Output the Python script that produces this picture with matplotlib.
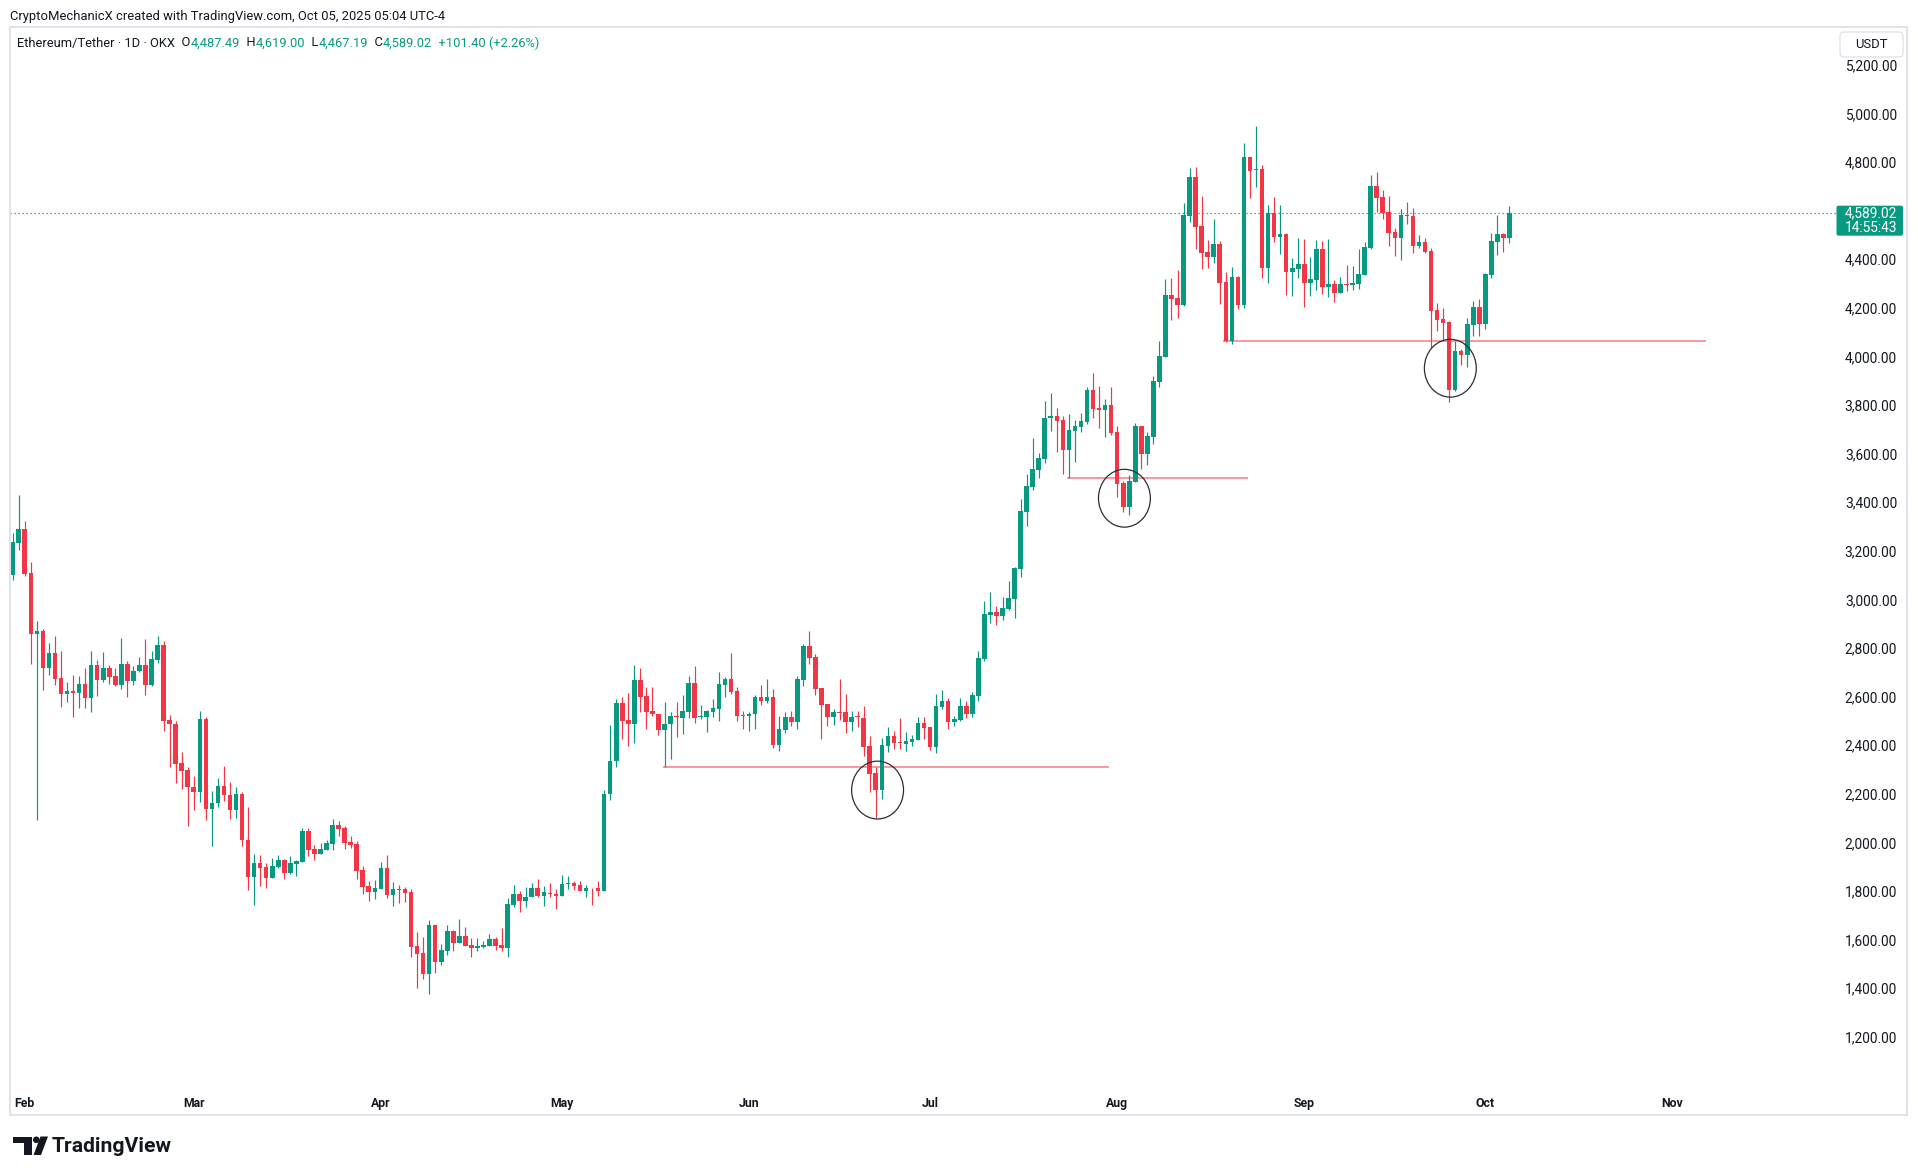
import numpy as np
import pandas as pd
import matplotlib
matplotlib.use("Agg")
import matplotlib.pyplot as plt
import matplotlib.dates as mdates
from matplotlib.ticker import FuncFormatter
from matplotlib.patches import Ellipse, FancyBboxPatch, Rectangle, Polygon, Circle
from matplotlib.transforms import IdentityTransform

plt.rcParams['font.family'] = ['Roboto', 'DejaVu Sans']

# ---------------- data (ETH/USDT daily, OKX) ----------------
start_date = "2025-01-30"
opens = [3102,3233,3290,3109,2859,2870,2719,2780,2677,2612,
         2623,2616,2652,2592,2730,2666,2718,2685,2649,2734,
         2662,2703,2730,2649,2752,2812,2504,2487,2327,2298,
         2228,2205,2508,2139,2160,2233,2193,2131,2197,2011,
         1859,1916,1899,1855,1899,1928,1875,1912,1920,2047,
         1973,1953,1969,1994,2072,2060,2002,1994,1887,1821,
         1796,1809,1895,1784,1809,1809,1796,1574,1545,1459,
         1661,1508,1554,1636,1587,1615,1578,1566,1570,1574,
         1603,1578,1566,1743,1788,1757,1773,1813,1781,1792,
         1788,1781,1829,1833,1825,1798,1813,1810,1798,2197,
         2333,2574,2504,2485,2668,2603,2542,2529,2464,2485,
         2519,2513,2538,2656,2516,2517,2538,2550,2649,2673,
         2623,2520,2518,2526,2599,2583,2599,2401,2464,2515,
         2497,2669,2808,2763,2636,2570,2516,2537,2537,2497,
         2516,2512,2397,2287,2217,2398,2438,2411,2403,2411,
         2423,2492,2475,2394,2558,2582,2497,2504,2562,2529,
         2603,2755,2936,2948,2932,2961,3002,3125,3360,3462,
         3532,3576,3745,3754,3738,3616,3693,3709,3730,3861,
         3787,3780,3800,3689,3480,3381,3484,3713,3599,3668,
         3894,3997,4252,4240,4212,4577,4738,4536,4429,4410,
         4462,4306,4064,4326,4212,4820,4766,4770,4365,4589,
         4492,4503,4348,4361,4381,4303,4315,4442,4287,4299,
         4262,4299,4295,4299,4336,4447,4701,4655,4594,4511,
         4488,4581,4577,4455,4472,4433,4191,4153,4143,3863,
         4022,4007,4130,4203,4134,4336,4471,4505,4487.49]
highs = [3274,3430,3323,3154,2911,2878,2821,2850,2788,2660,
         2689,2685,2718,2788,2751,2784,2730,2718,2841,2747,
         2726,2763,2837,2788,2850,2829,2525,2501,2372,2308,
         2274,2541,2516,2212,2265,2312,2249,2228,2207,2145,
         1953,1949,1916,1936,1949,1932,1945,1928,2060,2060,
         1990,1998,2010,2097,2088,2068,2027,2006,1903,1842,
         1846,1920,1949,1838,1825,1817,1809,1632,1611,1681,
         1661,1582,1661,1640,1685,1652,1607,1607,1595,1624,
         1611,1648,1772,1825,1798,1818,1833,1851,1821,1833,
         1809,1866,1862,1842,1842,1825,1813,1842,2217,2483,
         2590,2599,2615,2730,2718,2640,2640,2529,2578,2537,
         2578,2607,2685,2726,2566,2545,2590,2701,2681,2780,
         2640,2541,2537,2607,2648,2673,2630,2520,2537,2541,
         2685,2817,2870,2775,2636,2570,2549,2673,2611,2541,
         2541,2562,2438,2308,2431,2475,2459,2512,2455,2440,
         2516,2516,2475,2611,2627,2595,2520,2595,2582,2619,
         2788,2993,3030,2973,3010,3076,3133,3413,3516,3664,
         3603,3816,3849,3787,3754,3763,3738,3767,3874,3931,
         3878,3824,3874,3713,3488,3513,3726,3713,3689,3919,
         4063,4318,4322,4355,4631,4775,4779,4659,4478,4565,
         4474,4347,4367,4330,4877,4820,4947,4787,4622,4655,
         4622,4507,4406,4488,4483,4410,4480,4476,4484,4315,
         4328,4377,4373,4443,4472,4746,4760,4684,4660,4528,
         4606,4635,4610,4499,4488,4447,4221,4199,4147,4063,
         4030,4158,4229,4236,4344,4509,4581,4509,4619.00]
lows = [3081,3203,3094,2732,2093,2625,2690,2649,2555,2579,
        2514,2551,2551,2538,2604,2658,2653,2645,2629,2600,
        2649,2699,2608,2645,2736,2460,2308,2246,2221,2069,
        2135,2164,2090,1986,2147,2168,2094,2098,1986,1804,
        1744,1822,1814,1855,1895,1851,1870,1862,1920,1944,
        1928,1953,1969,1969,2027,1973,1977,1850,1788,1759,
        1768,1809,1772,1739,1751,1755,1529,1402,1438,1377,
        1463,1496,1537,1554,1587,1574,1529,1554,1566,1574,
        1558,1554,1529,1735,1715,1732,1773,1773,1736,1773,
        1724,1781,1806,1802,1798,1773,1743,1781,1798,2176,
        2308,2427,2398,2407,2538,2468,2520,2440,2308,2341,
        2435,2444,2513,2489,2509,2452,2517,2501,2600,2612,
        2501,2468,2460,2468,2567,2575,2387,2374,2448,2479,
        2468,2645,2734,2607,2427,2479,2483,2504,2448,2460,
        2475,2357,2209,2102,2180,2370,2382,2386,2374,2398,
        2423,2427,2378,2366,2549,2468,2479,2500,2512,2516,
        2582,2747,2903,2895,2915,2956,2923,3092,3302,3450,
        3499,3562,3693,3608,3517,3501,3567,3689,3721,3746,
        3706,3668,3676,3423,3361,3349,3484,3538,3554,3641,
        3872,3997,4151,4159,4208,4552,4443,4361,4365,4385,
        4217,4057,4052,4196,4200,4653,4696,4323,4303,4472,
        4422,4254,4249,4324,4204,4250,4274,4258,4245,4225,
        4262,4270,4274,4278,4336,4443,4595,4566,4455,4414,
        4398,4546,4426,4447,4426,4036,4106,4064,3814,3859,
        3966,3958,4085,4085,4114,4324,4418,4430,4467.19]
closes = [3236,3290,3106,2859,2870,2719,2780,2674,2612,2623,
          2616,2652,2592,2730,2666,2718,2682,2649,2734,2662,
          2706,2730,2649,2755,2812,2501,2485,2324,2295,2226,
          2205,2508,2139,2163,2233,2193,2131,2197,2011,1859,
          1916,1896,1855,1903,1928,1875,1916,1924,2047,1969,
          1953,1973,1998,2072,2056,1998,1990,1883,1817,1796,
          1813,1895,1784,1809,1805,1792,1570,1541,1459,1661,
          1508,1558,1636,1587,1615,1574,1566,1574,1578,1603,
          1574,1566,1747,1788,1757,1776,1813,1781,1794,1788,
          1781,1829,1833,1822,1798,1814,1810,1798,2200,2335,
          2574,2501,2485,2668,2600,2538,2526,2464,2487,2520,
          2516,2541,2656,2513,2520,2541,2553,2652,2673,2620,
          2518,2518,2529,2599,2583,2599,2401,2467,2515,2497,
          2673,2808,2759,2631,2566,2516,2537,2534,2497,2516,
          2514,2394,2283,2217,2401,2438,2407,2407,2415,2427,
          2492,2472,2394,2562,2582,2497,2508,2562,2529,2607,
          2759,2940,2948,2932,2965,3006,3129,3364,3467,3536,
          3582,3748,3754,3735,3616,3696,3713,3734,3861,3783,
          3780,3800,3685,3476,3381,3488,3713,3599,3672,3898,
          4001,4252,4237,4212,4581,4738,4532,4426,4410,4462,
          4303,4064,4326,4212,4820,4762,4770,4365,4589,4492,
          4503,4348,4365,4381,4303,4320,4442,4287,4299,4262,
          4299,4295,4303,4340,4451,4701,4653,4591,4509,4488,
          4581,4577,4455,4472,4430,4188,4151,4138,3863,4022,
          4007,4133,4203,4134,4340,4474,4505,4487.62,4589.02]

# horizontal support levels drawn on the chart (price, start day, end day from first candle)
level_prices = [2309, 3501, 4062]
level_start_day = [107.8, 174.7, 200.6]
level_end_day = [181.7, 204.7, 280.6]
# hand-drawn circles (centre day from first candle, centre price)
circle_day = [143.3, 184.2, 238.2]
circle_price = [2215, 3416, 3951]

month_ticks = ["2025-02-01", "2025-03-01", "2025-04-01", "2025-05-01", "2025-06-01",
               "2025-07-01", "2025-08-01", "2025-09-01", "2025-10-01", "2025-11-01"]
price_ticks = list(range(1200, 5201, 200))

symbol_title = "Ethereum/Tether · 1D · OKX"
credit = "CryptoMechanicX created with TradingView.com, Oct 05, 2025 05:04 UTC-4"
countdown = "14:55:43"

# ---------------- styling ----------------
GREEN = "#089981"
RED = "#F23645"
TXT = "#131722"
W, H = 1918, 1175

fig = plt.figure(figsize=(W / 100, H / 100), dpi=100)
fig.patch.set_facecolor("white")

def fx(x):
    return x / W

def fy(y):
    return 1 - y / H

ax = fig.add_axes([fx(10), fy(1090), (1836 - 10) / W, (1090 - 25) / H])
ax.set_facecolor("white")
for s in ax.spines.values():
    s.set_visible(False)

o = np.array(opens, float)
h = np.array(highs, float)
l = np.array(lows, float)
c = np.array(closes, float)
dates = pd.date_range(start_date, periods=len(c), freq="D")
x = mdates.date2num(dates)
x0 = x[0]
up = c >= o
cols = np.where(up, GREEN, RED)

ax.vlines(x, l, h, colors=cols, linewidth=0.85, zorder=2)
body_h = np.maximum(np.abs(c - o), 4.0)
ax.bar(x, body_h, bottom=np.minimum(o, c), width=0.76, color=cols, linewidth=0, zorder=3)

# support lines
for p, s0, s1 in zip(level_prices, level_start_day, level_end_day):
    ax.plot([x0 + s0, x0 + s1], [p, p], color=RED, alpha=0.6, linewidth=1.2, zorder=1.5,
            solid_capstyle="butt")

# circles
for d, p in zip(circle_day, circle_price):
    ax.add_patch(Ellipse((x0 + d, p), width=8.6, height=238, angle=0, fill=False,
                         edgecolor="#2A2E39", linewidth=0.9, zorder=4))

# last price dotted line
ax.axhline(c[-1], color=GREEN, linewidth=0.9, linestyle=(0, (1, 2.2)), zorder=1)

ax.set_xlim(x0 - 0.447, x0 + 302.1)
ax.set_ylim(980.7, 5363.4)

# axes ticks
mt = pd.to_datetime(month_ticks)
ax.set_xticks(mdates.date2num(mt))
ax.set_xticklabels([d.strftime("%b") for d in mt])
ax.tick_params(axis="x", length=0, pad=4.8, labelsize=8.8, labelcolor=TXT)
for lab in ax.get_xticklabels():
    lab.set_fontweight("bold")

ax.set_yticks(price_ticks)
ax.yaxis.set_major_formatter(FuncFormatter(lambda v, pos: f"{v:,.2f}"))
ax.yaxis.tick_right()
ax.tick_params(axis="y", length=0, pad=44, labelsize=9.9, labelcolor=TXT)
for t in ax.yaxis.get_major_ticks():
    t.label2.set_horizontalalignment("right")

ID = IdentityTransform()

# frame
fig.patches.append(Rectangle((9.5, H - 1115), 1907 - 9.5, 1115 - 27, transform=ID,
                             fill=False, edgecolor="#E0E3EB", linewidth=1.5, zorder=0.5))

# USDT box
fig.patches.append(FancyBboxPatch((1840, H - 57), 63, 25, transform=ID,
                                  boxstyle="round,pad=0,rounding_size=4",
                                  facecolor="white", edgecolor="#E0E3EB", linewidth=1.0, zorder=5))
fig.text(1871.5, H - 44.5, "USDT", transform=ID, ha="center", va="center",
         fontsize=9.4, color=TXT, zorder=6)

# last price label
fig.canvas.draw()
ypix = ax.transData.transform((x0, c[-1]))[1]
fig.patches.append(FancyBboxPatch((1836.5, ypix - 22.5), 66.5, 30, transform=ID,
                                  boxstyle="round,pad=0,rounding_size=2",
                                  facecolor=GREEN, edgecolor="none", zorder=5))
fig.text(1845, ypix, f"{c[-1]:,.2f}", transform=ID, ha="left", va="center",
         fontsize=9.9, color="white", zorder=6)
fig.text(1845, ypix - 15, countdown, transform=ID, ha="left", va="center",
         fontsize=9.9, color="white", zorder=6)

# header texts
renderer = fig.canvas.get_renderer()
fig.text(10, H - 16.5, credit, transform=ID, ha="left", va="center", fontsize=9.4, color=TXT)

chg = c[-1] - c[-2]
pct = chg / c[-2] * 100
pieces = [(symbol_title, TXT), ("  O", TXT), (f"{o[-1]:,.2f}", GREEN),
          ("  H", TXT), (f"{h[-1]:,.2f}", GREEN), ("  L", TXT), (f"{l[-1]:,.2f}", GREEN),
          ("  C", TXT), (f"{c[-1]:,.2f}", GREEN), (f"  {chg:+,.2f} ({pct:+.2f}%)", GREEN)]
xc = 17
for s, col in pieces:
    t = fig.text(xc, H - 43, s, transform=ID, ha="left", va="center", fontsize=9.3, color=col)
    bb = t.get_window_extent(renderer)
    xc = bb.x1

# TradingView logo
k = "#131722"
fig.patches.append(Polygon([(12.5, H - 1136.5), (32, H - 1136.5), (32, H - 1155),
                            (24, H - 1155), (24, H - 1143), (12.5, H - 1143)],
                           closed=True, transform=ID, facecolor=k, edgecolor="none"))
fig.patches.append(Circle((36.3, H - 1139.8), 3.3, transform=ID, facecolor=k, edgecolor="none"))
fig.patches.append(Polygon([(40.5, H - 1136.5), (48, H - 1136.5), (41, H - 1155), (33.5, H - 1155)],
                           closed=True, transform=ID, facecolor=k, edgecolor="none"))
fig.text(52, H - 1146, "TradingView", transform=ID, ha="left", va="center",
         fontsize=15.2, fontweight="bold", color=k)

fig.savefig("out.png", dpi=100, facecolor="white")
